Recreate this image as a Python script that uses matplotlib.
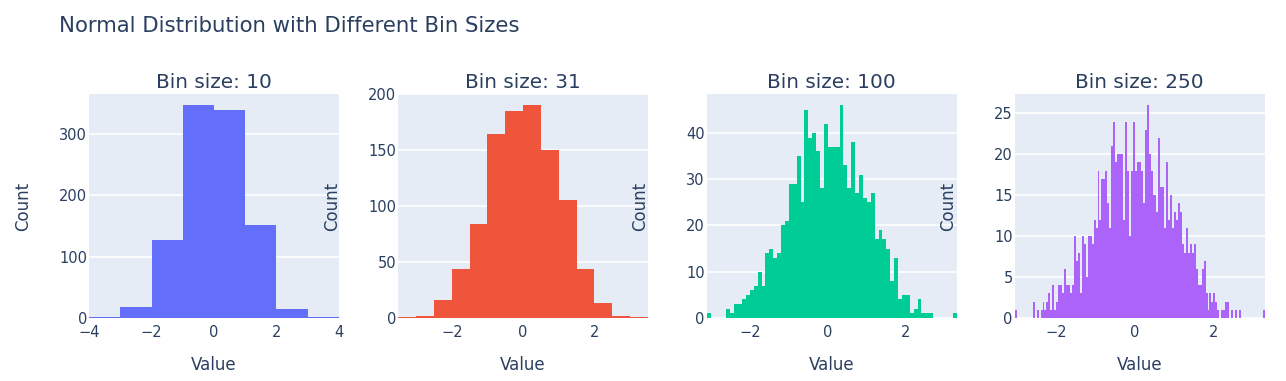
import numpy as np
import matplotlib
matplotlib.use("Agg")
import matplotlib.pyplot as plt

# bin counts (1000 normal samples)
counts_10 = [1, 18, 127, 347, 339, 152, 14, 2]
start_10, width_10 = -4.0, 1.0

counts_31 = [1, 2, 16, 44, 84, 164, 185, 190, 150, 105, 44, 13, 2, 1]
start_31, width_31 = -3.5, 0.5

counts_100 = [1, 0, 0, 0, 0, 2, 1, 3, 3, 4, 5, 6, 7, 10, 7, 14, 15, 13, 14, 20,
              21, 29, 29, 35, 25, 45, 39, 40, 36, 28, 42, 37, 37, 37, 46, 33, 28, 38, 27, 31,
              26, 25, 27, 17, 19, 17, 15, 8, 13, 4, 5, 5, 1, 2, 4, 1, 1, 1, 0, 0,
              0, 0, 0, 1]
start_100, width_100 = -3.1, 0.1

counts_250 = [1, 0, 0, 0, 0, 0, 0, 0, 0, 2, 0, 1, 0, 1, 2, 1, 2, 3, 1, 4,
              1, 2, 4, 4, 3, 6, 4, 4, 3, 4, 10, 7, 8, 3, 10, 9, 5, 10, 10, 9,
              12, 11, 18, 12, 17, 17, 18, 14, 11, 21, 24, 19, 20, 20, 20, 12, 24, 18, 10, 18,
              24, 18, 19, 19, 18, 14, 23, 26, 20, 18, 15, 15, 13, 22, 16, 16, 11, 19, 12, 15,
              11, 13, 12, 14, 13, 9, 8, 11, 8, 9, 8, 9, 6, 4, 4, 6, 7, 3, 1, 3,
              2, 3, 2, 1, 0, 1, 1, 2, 2, 0, 1, 0, 1, 0, 1, 0, 0, 0, 0, 0,
              0, 0, 0, 0, 0, 0, 1]
start_250, width_250 = -3.05, 0.05

bin_labels = [10, 31, 100, 250]
colors = ["#636efa", "#EF553B", "#00cc96", "#ab63fa"]
xticks = [[-4, -2, 0, 2, 4], [-2, 0, 2], [-2, 0, 2], [-2, 0, 2]]
yticks = [[0, 100, 200, 300], [0, 50, 100, 150, 200], [0, 10, 20, 30, 40], [0, 5, 10, 15, 20, 25]]

panels = [(counts_10, start_10, width_10),
          (counts_31, start_31, width_31),
          (counts_100, start_100, width_100),
          (counts_250, start_250, width_250)]

text_col = "#2a3f5f"
W, H = 1286, 381
fig = plt.figure(figsize=(W / 100, H / 100), dpi=100)
fig.patch.set_facecolor("white")

lefts = [89.3, 398.3, 707.0, 1015.0]
pw, ptop, pbot = 249.5, 94, 318
ph = pbot - ptop

fig.text(59 / W, 1 - 32.3 / H, "Normal Distribution with Different Bin Sizes",
         fontsize=15.3, color=text_col, ha="left", va="baseline")

for i, (counts, start, w) in enumerate(panels):
    ax = fig.add_axes([lefts[i] / W, (H - pbot) / H, pw / W, ph / H])
    ax.set_facecolor("#E5ECF6")
    edges = start + w * np.arange(len(counts) + 1)
    ax.stairs(counts, edges, fill=True, color=colors[i], linewidth=0, zorder=2)
    ax.set_xlim(edges[0], edges[-1])
    ax.set_ylim(0, max(counts) / 0.95)
    ax.set_xticks(xticks[i])
    ax.set_yticks(yticks[i])
    ax.grid(axis="y", color="white", linewidth=1.2, zorder=0)
    ax.set_axisbelow(True)
    for s in ax.spines.values():
        s.set_visible(False)
    ax.tick_params(axis="both", length=0, labelsize=10.5, labelcolor=text_col)
    ax.tick_params(axis="x", pad=5.0)
    ax.tick_params(axis="y", pad=1.6)

    ax.text(0.5, 1 + 6.3 / ph, "Bin size: " + str(bin_labels[i]), transform=ax.transAxes,
            ha="center", va="baseline", fontsize=14.4, color=text_col)
    ax.text(0.5, -(370 - pbot) / ph, "Value", transform=ax.transAxes,
            ha="center", va="baseline", fontsize=12, color=text_col)
    ax.text(-66.5 / pw, 0.5, "Count", transform=ax.transAxes, rotation=90,
            ha="center", va="center", fontsize=12, color=text_col)

fig.savefig("out.png", dpi=100)
